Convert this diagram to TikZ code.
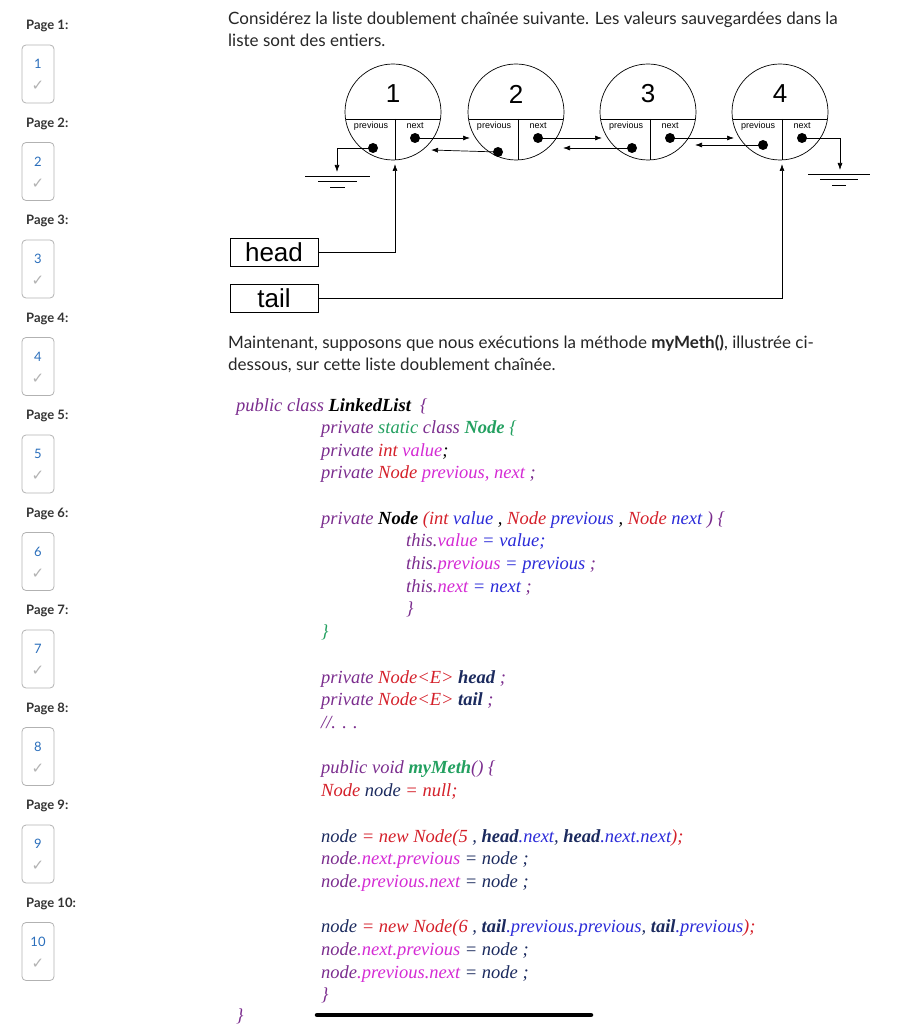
\documentclass[tikz,border=0pt]{standalone}
\usepackage{fontspec}
\setmainfont{Liberation Serif}
\newfontfamily\latof{Lato}
\newfontfamily\arialf{Liberation Sans}
\newfontfamily\dejaf{DejaVu Sans}
\definecolor{pv}{HTML}{7B2D8E}
\definecolor{mg}{HTML}{D42AD4}
\definecolor{rd}{HTML}{D4202A}
\definecolor{bl}{HTML}{2A2AD8}
\definecolor{gr}{HTML}{23A060}
\definecolor{nv}{HTML}{1B2A5E}
\definecolor{pnum}{HTML}{2A6EBB}
\newcommand\Cpv[1]{\textcolor{pv}{#1}}
\newcommand\Cmg[1]{\textcolor{mg}{#1}}
\newcommand\Crd[1]{\textcolor{rd}{#1}}
\newcommand\Cbl[1]{\textcolor{bl}{#1}}
\newcommand\Cgr[1]{\textcolor{gr}{#1}}
\newcommand\Cnv[1]{\textcolor{nv}{#1}}
\begin{document}
\begin{tikzpicture}[x=1pt,y=-1pt,
  code/.style={anchor=base west,inner sep=0,font=\fontsize{18.5}{22}\selectfont\itshape},
  prose/.style={anchor=base west,inner sep=0,font=\latof\fontsize{17}{19}\selectfont,text=black!85},
  pagelbl/.style={anchor=west,inner sep=0,font=\latof\bfseries\fontsize{13}{15}\selectfont,text=black!80},
  pagebox/.style={draw=black!30,rounded corners=4pt,minimum width=32pt,minimum height=58pt,inner sep=0,line width=0.8pt},
  circ/.style={draw,circle,minimum size=96pt,inner sep=0,line width=0.7pt},
  fld/.style={font=\arialf\fontsize{9}{10}\selectfont,inner sep=0},
  ptr/.style={fill,circle,inner sep=0,minimum size=10pt},
  lnk/.style={line width=0.7pt,-{Latex[length=7pt,width=5pt]}},
  gnd/.style={line width=0.7pt},
  lbox/.style={draw,line width=0.6pt,minimum width=88pt,minimum height=28pt,inner sep=0,font=\arialf\fontsize{26}{28}\selectfont}]
\usetikzlibrary{arrows.meta}
\useasboundingbox (0,0) rectangle (908,1024);
% sidebar
\foreach \i in {1,...,10}{
  \pgfmathsetmacro\yy{26+97.5*(\i-1)}
  \node[pagelbl] (pl\i) at (26,\yy) {Page \i:};
  \node[pagebox] (pb\i) at (38,\yy+48) {};
  \node[inner sep=0,font=\latof\fontsize{13}{15}\selectfont,text=pnum] (pn\i) at (38,\yy+38) {\i};
  \node[inner sep=0,font=\dejaf\fontsize{15}{17}\selectfont,text=black!30] (pc\i) at (38,\yy+60) {✓};
}
% prose
\node[prose] (t1) at (228,25) {Considérez la liste doublement chaînée suivante. Les valeurs sauvegardées dans la};
\node[prose] (t2) at (228,47) {liste sont des entiers.};
\node[prose] (t3) at (228,348) {Maintenant, supposons que nous exécutions la méthode \textbf{myMeth()}, illustrée ci-};
\node[prose] (t4) at (228,370) {dessous, sur cette liste doublement chaînée.};
% list diagram
\foreach \n/\x in {1/393,2/516,3/648,4/780}{
  \node[circ] (c\n) at (\x,112) {};
  \draw[line width=0.7pt] (\x-47,119) -- (\x+47,119);
  \draw[line width=0.7pt] (\x+2,119) -- (\x+2,160);
  \node[inner sep=0,font=\arialf\fontsize{26}{28}\selectfont] (v\n) at (\x,94) {\n};
  \node[fld] (fp\n) at (\x-22,126) {previous};
  \node[fld] (fn\n) at (\x+22,126) {next};
  \node[ptr] (dn\n) at (\x+22,138) {};
}
\node[ptr] (dp1) at (373,148) {};
\node[ptr] (dp2) at (498,152) {};
\node[ptr] (dp3) at (632,148) {};
\node[ptr] (dp4) at (763,145) {};
% forward links
\draw[lnk] (dn1.center) -- (470,138);
\draw[lnk] (dn2.center) -- (602,138);
\draw[lnk] (dn3.center) -- (734,138);
% backward links
\draw[lnk] (dp2.center) -- (431,150);
\draw[lnk] (dp3.center) -- (563,148);
\draw[lnk] (dp4.center) -- (695,145);
% grounds
\coordinate (g1) at (337,172);
\draw[lnk] (dp1.center) -| (g1);
\draw[gnd] (305,176) -- (370,176) (318,181) -- (357,181) (330,187) -- (345,187);
\coordinate (g2) at (840,170);
\draw[lnk] (dn4.center) -| (g2);
\draw[gnd] (808,174) -- (870,174) (820,179) -- (858,179) (832,185) -- (846,185);
% head / tail
\node[lbox] (head) at (274,252) {head};
\node[lbox] (tail) at (274,298) {tail};
\coordinate (hb) at (395,164);
\coordinate (tb) at (782,164);
\draw[lnk] (head.east) -| (hb);
\draw[lnk] (tail.east) -| (tb);
% code
\node[code] (k1) at (236,411) {\Cpv{public class} \textbf{LinkedList}\Cpv{\ \ \{}};
\node[code] (k2) at (321,433) {\Cpv{private} \Cgr{static} \Cpv{class} \Cgr{\textbf{Node} \{}};
\node[code] (k3) at (321,456) {\Cpv{private} \Crd{int} \Cmg{value};};
\node[code] (k4) at (321,478) {\Cpv{private} \Crd{Node} \Cmg{previous, next} \Cpv{;}};
\node[code] (k5) at (321,524) {\Cpv{private} \textbf{Node} \Crd{(int} \Cbl{value} , \Crd{Node} \Cbl{previous} , \Crd{Node} \Cbl{next} \Cpv{) \{}};
\node[code] (k6) at (406,546) {\Cpv{this.}\Cmg{value} \Cbl{= value;}};
\node[code] (k7) at (406,569) {\Cpv{this.}\Cmg{previous} \Cbl{= previous} \Cpv{;}};
\node[code] (k8) at (406,592) {\Cpv{this.}\Cmg{next} \Cbl{= next} \Cpv{;}};
\node[code] (k9) at (406,614) {\Cpv{\}}};
\node[code] (k10) at (321,637) {\Cgr{\}}};
\node[code] (k11) at (321,683) {\Cpv{private} \Crd{Node<E>} \Cnv{\textbf{head}} \Cpv{;}};
\node[code] (k12) at (321,705) {\Cpv{private} \Crd{Node<E>} \Cnv{\textbf{tail}} \Cpv{;}};
\node[code] (k13) at (321,728) {\Cpv{//. . .}};
\node[code] (k14) at (321,773) {\Cpv{public void} \Cgr{\textbf{myMeth}}\Cpv{() \{}};
\node[code] (k15) at (321,796) {\Crd{Node} \Cnv{node} \Crd{= null;}};
\node[code] (k16) at (321,842) {\Cnv{node} \Crd{= new Node(5} \Cnv{, \textbf{head}}\Cbl{.next}\Cnv{, \textbf{head}}\Cbl{.next.next}\Crd{);}};
\node[code] (k17) at (321,864) {\Cpv{node}\Cmg{.next.previous} \Cnv{= node ;}};
\node[code] (k18) at (321,887) {\Cpv{node}\Cmg{.previous.next} \Cnv{= node ;}};
\node[code] (k19) at (321,932) {\Cnv{node} \Crd{= new Node(6} \Cnv{, \textbf{tail}}\Cbl{.previous.previous}\Cnv{, \textbf{tail}}\Cbl{.previous}\Crd{);}};
\node[code] (k20) at (321,955) {\Cpv{node}\Cmg{.next.previous} \Cnv{= node ;}};
\node[code] (k21) at (321,978) {\Cpv{node}\Cmg{.previous.next} \Cnv{= node ;}};
\node[code] (k22) at (321,1000) {\Cpv{\}}};
\node[code] (k23) at (236,1021) {\Cpv{\}}};
% bottom bar
\draw[line width=4.5pt,line cap=round] (317,1015) -- (591,1015);
\end{tikzpicture}
\end{document}
